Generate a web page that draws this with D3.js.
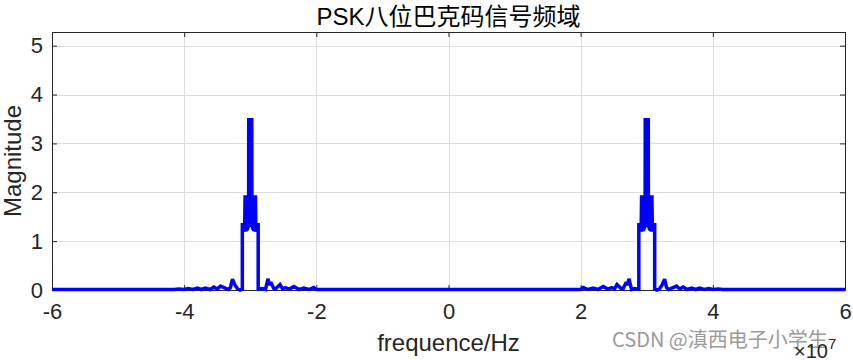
<!DOCTYPE html>
<html>
<head>
<meta charset="utf-8">
<script src="https://cdn.jsdelivr.net/npm/d3@7"></script>
<style>
  html, body { margin: 0; padding: 0; background: #fff; }
  svg { display: block; }
</style>
</head>
<body>
<svg id="chart" width="853" height="360"></svg>
<script>
// ---- data (frequency in units of 1e7 Hz) ----
const xTicks = [-6, -4, -2, 0, 2, 4, 6];
const yTicks = [0, 1, 2, 3, 4, 5];
const xTickLabels = ["-6", "-4", "-2", "0", "2", "4", "6"];
const yTickLabels = ["0", "1", "2", "3", "4", "5"];
const titleText = "PSK八位巴克码信号频域";
const xLabelText = "frequence/Hz";
const yLabelText = "Magnitude";

const freq = [
  -6.00, -5.50, -5.00, -4.50,
  -4.15, -4.08, -4.00, -3.94, -3.87, -3.80, -3.74, -3.68, -3.61, -3.55, -3.50, -3.45, -3.38, -3.33, -3.30, -3.27, -3.23, -3.19, -3.155, -3.12,
  -3.120, -3.115, -3.110, -3.105, -3.100, -3.095, -3.090, -3.085,
  -3.078, -3.073, -3.068, -3.063, -3.058, -3.053, -3.048, -3.043, -3.038, -3.033, -3.028, -3.025,
  -3.023, -3.017, -3.011, -3.005, -3.000, -2.995, -2.989, -2.983, -2.977,
  -2.975, -2.972, -2.967, -2.962, -2.957, -2.952, -2.947, -2.942, -2.937, -2.932, -2.927, -2.922,
  -2.915, -2.910, -2.905, -2.900, -2.895, -2.890, -2.885, -2.880,
  -2.88, -2.85, -2.82, -2.77, -2.73, -2.71, -2.69, -2.64, -2.61, -2.55, -2.51, -2.47, -2.41, -2.34, -2.26, -2.19, -2.11, -2.04, -2.00, -1.90,
  -1.50, -1.00, -0.50, 0.00, 0.50, 1.00, 1.50,
  1.90, 2.00, 2.04, 2.11, 2.19, 2.26, 2.34, 2.41, 2.47, 2.51, 2.55, 2.61, 2.64, 2.69, 2.71, 2.73, 2.77, 2.82, 2.85, 2.88,
  2.880, 2.885, 2.890, 2.895, 2.900, 2.905, 2.910, 2.915,
  2.922, 2.927, 2.932, 2.937, 2.942, 2.947, 2.952, 2.957, 2.962, 2.967, 2.972, 2.975,
  2.977, 2.983, 2.989, 2.995, 3.000, 3.005, 3.011, 3.017, 3.023,
  3.025, 3.028, 3.033, 3.038, 3.043, 3.048, 3.053, 3.058, 3.063, 3.068, 3.073, 3.078,
  3.085, 3.090, 3.095, 3.100, 3.105, 3.110, 3.115, 3.120,
  3.12, 3.155, 3.19, 3.23, 3.27, 3.30, 3.33, 3.38, 3.45, 3.50, 3.55, 3.61, 3.68, 3.74, 3.80, 3.87, 3.94, 4.00, 4.08, 4.15,
  4.50, 5.00, 5.50, 6.00
];
const magnitude = [
  0.01, 0.01, 0.01, 0.01,
  0.01, 0.02, 0.01, 0.03, 0.01, 0.04, 0.01, 0.04, 0.01, 0.06, 0.02, 0.08, 0.04, 0.01, 0.05, 0.22, 0.10, 0.02, 0.00, 0.02,
  1.37, 1.19, 1.37, 1.19, 1.37, 1.19, 1.37, 1.19,
  1.94, 1.20, 1.94, 1.20, 1.94, 1.21, 1.94, 1.23, 1.94, 1.26, 1.94, 1.29,
  3.52, 1.33, 3.52, 1.37, 3.52, 1.37, 3.52, 1.33, 3.52,
  1.29, 1.94, 1.26, 1.94, 1.23, 1.94, 1.21, 1.94, 1.20, 1.94, 1.20, 1.94,
  1.19, 1.37, 1.19, 1.37, 1.19, 1.37, 1.19, 1.37,
  0.02, 0.02, 0.03, 0.01, 0.23, 0.10, 0.16, 0.02, 0.03, 0.11, 0.02, 0.05, 0.02, 0.07, 0.01, 0.04, 0.01, 0.05, 0.01, 0.01,
  0.01, 0.01, 0.01, 0.01, 0.01, 0.01, 0.01,
  0.01, 0.01, 0.05, 0.01, 0.04, 0.01, 0.07, 0.02, 0.05, 0.02, 0.11, 0.03, 0.02, 0.16, 0.10, 0.23, 0.01, 0.03, 0.02, 0.02,
  1.37, 1.19, 1.37, 1.19, 1.37, 1.19, 1.37, 1.19,
  1.94, 1.20, 1.94, 1.20, 1.94, 1.21, 1.94, 1.23, 1.94, 1.26, 1.94, 1.29,
  3.52, 1.33, 3.52, 1.37, 3.52, 1.37, 3.52, 1.33, 3.52,
  1.29, 1.94, 1.26, 1.94, 1.23, 1.94, 1.21, 1.94, 1.20, 1.94, 1.20, 1.94,
  1.19, 1.37, 1.19, 1.37, 1.19, 1.37, 1.19, 1.37,
  0.02, 0.00, 0.02, 0.10, 0.22, 0.05, 0.01, 0.04, 0.08, 0.02, 0.06, 0.01, 0.04, 0.01, 0.04, 0.01, 0.03, 0.01, 0.02, 0.01,
  0.01, 0.01, 0.01, 0.01
];

// ---- layout ----
const W = 853, H = 360;
const m = { left: 52, right: 8, top: 32, bottom: 70 };
const plotW = W - m.left - m.right;
const plotH = H - m.top - m.bottom;
const axisColor = "#262626";
const font = "'Liberation Sans', Arial, Helvetica, sans-serif";
const cjkFont = "'Liberation Sans', 'Noto Sans CJK SC', sans-serif";

const svg = d3.select("#chart");
const g = svg.append("g").attr("transform", `translate(${m.left},${m.top})`);

const x = d3.scaleLinear().domain([-6, 6]).range([0, plotW]);
const y = d3.scaleLinear().domain([0, 5.28]).range([plotH, 0]);

// grid
g.append("g").selectAll("line").data(xTicks.slice(1, -1)).join("line")
  .attr("x1", d => Math.round(x(d)) + 0.5).attr("x2", d => Math.round(x(d)) + 0.5)
  .attr("y1", 0).attr("y2", plotH)
  .attr("stroke", "#dedede").attr("stroke-width", 1);
g.append("g").selectAll("line").data(yTicks.slice(1)).join("line")
  .attr("y1", d => Math.round(y(d)) + 0.5).attr("y2", d => Math.round(y(d)) + 0.5)
  .attr("x1", 0).attr("x2", plotW)
  .attr("stroke", "#dedede").attr("stroke-width", 1);

// axes (inward ticks, box)
const xAxisB = d3.axisBottom(x).tickValues(xTicks).tickSize(-5).tickPadding(13)
  .tickFormat((d, i) => xTickLabels[i]);
const xAxisT = d3.axisTop(x).tickValues(xTicks).tickSize(-5).tickFormat("");
const yAxisL = d3.axisLeft(y).tickValues(yTicks).tickSize(-5).tickPadding(9)
  .tickFormat((d, i) => yTickLabels[i]);
const yAxisR = d3.axisRight(y).tickValues(yTicks).tickSize(-5).tickFormat("");

function styleAxis(sel) {
  sel.selectAll("path, line").attr("stroke", axisColor).attr("stroke-width", 1);
  sel.selectAll("text").attr("fill", axisColor).style("font-family", font).style("font-size", "22px");
}
g.append("g").attr("transform", `translate(0,${plotH})`).call(xAxisB).call(styleAxis)
  .call(s => s.select(".domain").attr("d", `M0.5,0.5H${plotW}`));
g.append("g").call(xAxisT).call(styleAxis);
g.append("g").call(yAxisL).call(styleAxis);
g.append("g").attr("transform", `translate(${plotW},0)`).call(yAxisR).call(styleAxis);

// data line
const line = d3.line().x((d, i) => x(freq[i])).y((d, i) => y(magnitude[i]));
g.append("path")
  .datum(magnitude)
  .attr("d", line)
  .attr("fill", "none")
  .attr("stroke", "#0000ff")
  .attr("stroke-width", 3.5)
  .attr("stroke-linejoin", "miter")
  .attr("stroke-miterlimit", 2);

// labels
svg.append("text").attr("x", m.left + plotW / 2).attr("y", 25)
  .attr("text-anchor", "middle").attr("fill", "#000")
  .style("font-family", cjkFont).style("font-size", "24px").text(titleText);
svg.append("text").attr("x", m.left + plotW / 2).attr("y", 351)
  .attr("text-anchor", "middle").attr("fill", axisColor)
  .style("font-family", font).style("font-size", "24px").text(xLabelText);
svg.append("text").attr("transform", `translate(21,${m.top + plotH / 2}) rotate(-90)`)
  .attr("text-anchor", "middle").attr("fill", axisColor)
  .style("font-family", font).style("font-size", "24px").text(yLabelText);

// watermark
svg.append("text").attr("x", 612).attr("y", 347)
  .attr("fill", "#9a9a9a")
  .style("font-family", "'Noto Sans CJK SC', sans-serif").style("font-size", "20px")
  .text("CSDN @滇西电子小学生");

// exponent
const ex = svg.append("text").attr("x", 794).attr("y", 358).attr("fill", axisColor)
  .style("font-family", font).style("font-size", "20px");
ex.append("tspan").text("×10");
ex.append("tspan").attr("dy", -9).style("font-size", "15px").text("7");
</script>
</body>
</html>
